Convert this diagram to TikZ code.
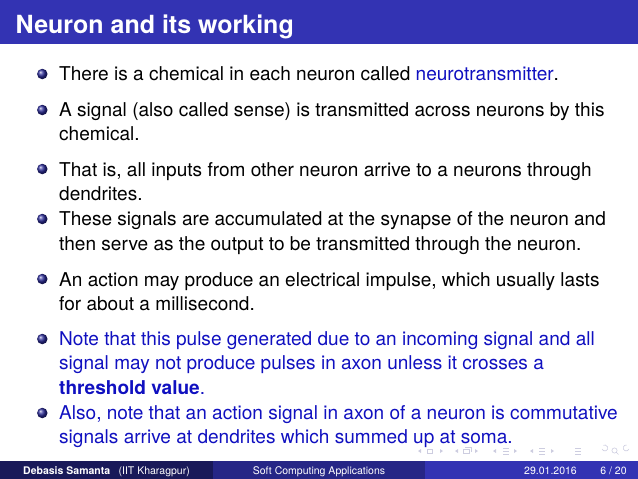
\documentclass[tikz,border=0pt]{standalone}
\usepackage{fontspec}
\setmainfont{TeX Gyre Heros}
\definecolor{barblue}{HTML}{3333B3}
\definecolor{midblue}{HTML}{262686}
\definecolor{darkblue}{HTML}{191959}
\definecolor{noteblue}{HTML}{1010C0}
\definecolor{navgray}{HTML}{CDCDE0}
\tikzset{
  bodyline/.style={anchor=base west,inner sep=0pt,align=left,font=\fontsize{19.05}{24.2}\selectfont},
  ballmark/.style={circle,inner sep=0pt,minimum size=10.5pt,shading=ball,ball color=barblue!85!black},
  footline/.style={inner sep=0pt,text=white,font=\fontsize{10.5}{13}\selectfont,anchor=base}
}
\begin{document}
\begin{tikzpicture}[x=1pt,y=-1pt]
\useasboundingbox (0,0) rectangle (638,479);
% title and foot bars
\fill[barblue] (0,0) rectangle (638,44);
\fill[darkblue] (0,461) rectangle (212.5,479);
\fill[midblue] (212.5,461) rectangle (425,479);
\fill[barblue] (425,461) rectangle (638,479);
\node[inner sep=0pt,anchor=base west,text=white,font=\fontsize{25}{28}\selectfont\bfseries] (title) at (15.5,33) {Neuron and its working};

% items, placed by the base of their last line
\node[bodyline] (chem) at (59,80) {There is a chemical in each neuron called \textcolor{noteblue}{neurotransmitter}.};
\node[bodyline] (sig) at (59,140.5) {A signal (also called sense) is transmitted across neurons by this\\chemical.};
\node[bodyline] (inp) at (59,200.5) {That is, all inputs from other neuron arrive to a neurons through\\dendrites.};
\node[bodyline] (acc) at (59,250) {These signals are accumulated at the synapse of the neuron and\\then serve as the output to be transmitted through the neuron.};
\node[bodyline] (act) at (59,310.5) {An action may produce an electrical impulse, which usually lasts\\for about a millisecond.};
\node[bodyline,text=noteblue] (note) at (59,394) {Note that this pulse generated due to an incoming signal and all\\signal may not produce pulses in axon unless it crosses a\\\textbf{threshold value}.};
\node[bodyline,text=noteblue] (also) at (59,443.5) {Also, note that an action signal in axon of a neuron is commutative\\signals arrive at dendrites which summed up at soma.};

\foreach \nm/\yy in {chem/74,sig/110,inp/169,acc/219,act/279,note/339,also/413}
  \node[ballmark] (ball\nm) at (42.3,\yy) {};

% foot texts
\node[footline] (auth) at (106.5,474.5) {\textbf{Debasis Samanta}\hspace{.8em}(IIT Kharagpur)};
\node[footline] (course) at (319,474.5) {Soft Computing Applications};
\node[footline] (date) at (550.5,474.5) {29.01.2016};
\node[footline] (page) at (613.5,474.5) {6 / 20};

% navigation symbols
\begin{scope}[navgray,line width=.6pt]
\foreach \xx in {418,455,493,530}
  \fill (\xx,451) -- (\xx+3,449) -- (\xx+3,453) -- cycle;
\foreach \xx in {443,478,517,554}
  \fill (\xx,451) -- (\xx-3,449) -- (\xx-3,453) -- cycle;
\draw (427,449.5) rectangle (432,453);
\draw (463,449.5) rectangle (469,453.5);
\draw (465,447.5) -- (471,447.5) -- (471,451.5);
\foreach \xx in {503,539,575}
  \draw (\xx,448) -- (\xx+6,448) (\xx,451) -- (\xx+6,451) (\xx,454) -- (\xx+6,454);
\draw (602,449) arc (160:-120:3);
\draw (614.5,450.5) circle (2.6) (616.5,452.5) -- (618.5,454.5);
\draw (629,449) arc (20:280:3);
\end{scope}
\end{tikzpicture}
\end{document}
